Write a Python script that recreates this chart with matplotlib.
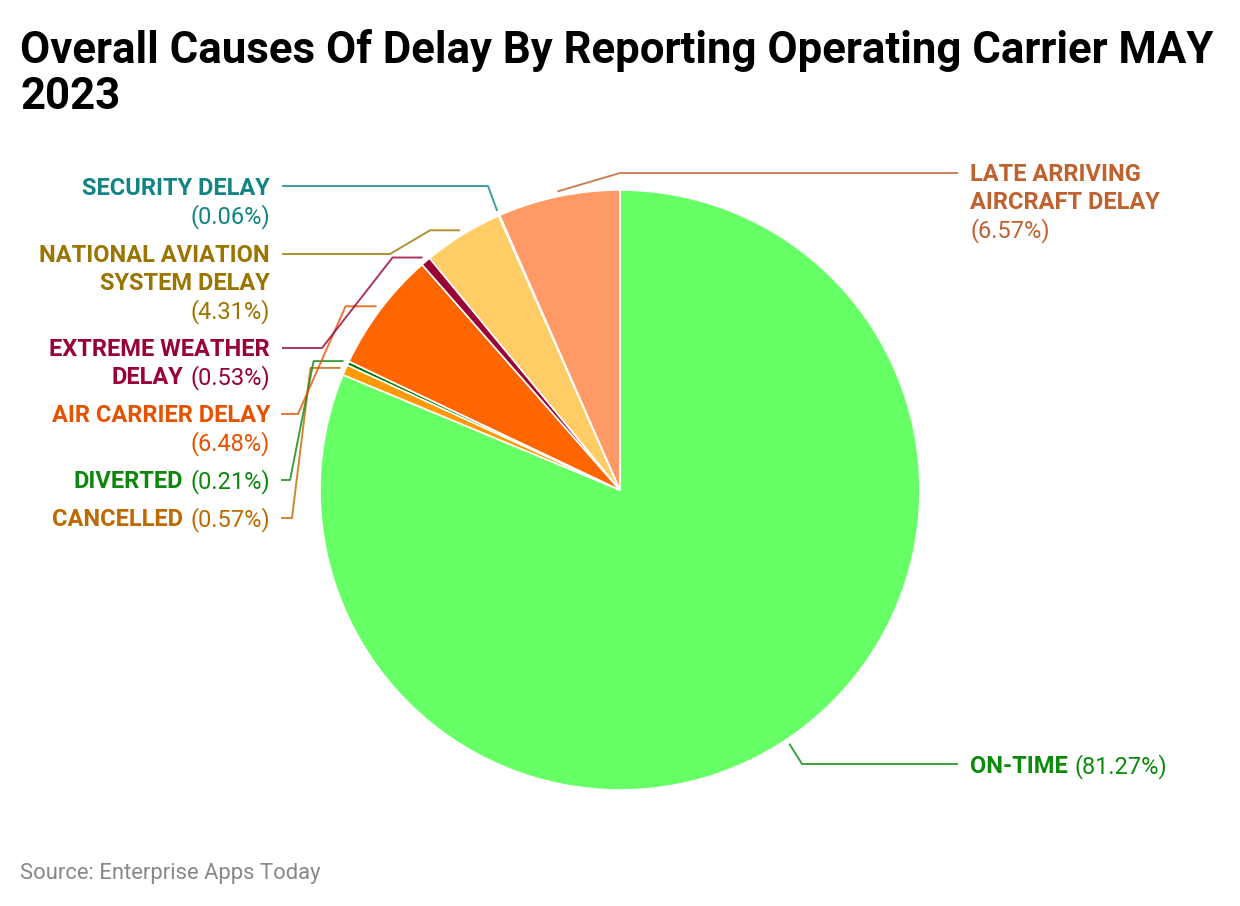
import numpy as np
import matplotlib
matplotlib.use("Agg")
import matplotlib.pyplot as plt

plt.rcParams['font.family'] = ['Roboto', 'DejaVu Sans']

# data, clockwise from 12 o'clock
categories = ["ON-TIME", "CANCELLED", "DIVERTED", "AIR CARRIER DELAY",
              "EXTREME WEATHER DELAY", "NATIONAL AVIATION SYSTEM DELAY",
              "SECURITY DELAY", "LATE ARRIVING AIRCRAFT DELAY"]
values = [81.27, 0.57, 0.21, 6.48, 0.53, 4.31, 0.06, 6.57]

wedge_colors = ["#66FF66", "#FF9900", "#007700", "#FF6600",
                "#990033", "#FFCC66", "#008B8B", "#FF9966"]
text_colors = ["#0B8A0B", "#BF6A00", "#0E870E", "#E65200",
               "#99003A", "#9C7400", "#128484", "#C0622F"]

# how each label is broken into lines; True = percentage on its own line
name_lines = [["ON-TIME"], ["CANCELLED"], ["DIVERTED"], ["AIR CARRIER DELAY"],
              ["EXTREME WEATHER", "DELAY"], ["NATIONAL AVIATION", "SYSTEM DELAY"],
              ["SECURITY DELAY"], ["LATE ARRIVING", "AIRCRAFT DELAY"]]
pct_own_line = [False, False, False, True, False, True, True, True]

W, H = 1240, 906
fig = plt.figure(figsize=(W / 100, H / 100), dpi=100)
ax = fig.add_axes([0, 0, 1, 1])

def Y(y):
    return H - y

cx, cy, R = 620, Y(490), 300
wedges, _ = ax.pie(values, colors=wedge_colors, startangle=90, counterclock=False,
                   center=(cx, cy), radius=R, frame=True,
                   wedgeprops=dict(edgecolor='white', linewidth=1.2))
ax.set_xlim(0, W)
ax.set_ylim(0, H)
ax.set_aspect('equal')
ax.axis('off')

# label layout: (side, first line y in px, leader path after the start point)
layout = [
    ('right', 765, [(802, 764), (958, 764)], None),
    ('left', 518, [(292, 518), (281, 518)], 30),
    ('left', 480, [(290, 480), (281, 480)], 30),
    ('left', 414, [(298, 414), (281, 414)], 31),
    ('left', 348, [(322, 348), (282, 348)], 30),
    ('left', 254, [(390, 254), (282, 254)], 30),
    ('left', 187, [(488, 186), (282, 186)], None),
    ('right', 173, [(620, 173), (958, 173)], None),
]

fs = 17
lh = 28
gap = 7
renderer = fig.canvas.get_renderer()

def width_of(t):
    return t.get_window_extent(renderer=renderer).width

for i, w in enumerate(wedges):
    side, y0, path, hor = layout[i]
    mid = np.deg2rad((w.theta1 + w.theta2) / 2)
    sx = cx + (R + 5) * np.cos(mid)
    sy = cy + (R + 5) * np.sin(mid)
    xs, ys = [sx], [sy]
    if hor:
        xs.append(sx - hor)
        ys.append(sy)
    for px, py in path:
        xs.append(px)
        ys.append(Y(py))
    ax.plot(xs, ys, color=text_colors[i], lw=1.4, alpha=0.8, solid_capstyle='butt')

    pct = f"({values[i]:.2f}%)"
    lines = [[(n, True)] for n in name_lines[i]]
    if pct_own_line[i]:
        lines.append([(pct, False)])
    else:
        lines[-1].append((pct, False))

    for k, segs in enumerate(lines):
        yb = Y(y0 + k * lh) - 8
        if side == 'left':
            x = 270
            for txt, bold in reversed(segs):
                t = ax.text(x, yb, txt, ha='right', va='baseline', fontsize=fs,
                            fontweight='bold' if bold else 'normal', color=text_colors[i])
                x -= width_of(t) + gap
        else:
            x = 970
            for txt, bold in segs:
                t = ax.text(x, yb, txt, ha='left', va='baseline', fontsize=fs,
                            fontweight='bold' if bold else 'normal', color=text_colors[i])
                x += width_of(t) + gap

fig.text(20 / W, 1 - 109 / H, "Overall Causes Of Delay By Reporting Operating Carrier MAY\n2023",
         ha='left', va='baseline', fontsize=31.5, fontweight='bold', color='black',
         linespacing=1.12)
fig.text(20 / W, 1 - 879 / H, "Source: Enterprise Apps Today", ha='left', va='baseline',
         fontsize=15.8, color='#888888')

fig.savefig("out.png", dpi=100)
